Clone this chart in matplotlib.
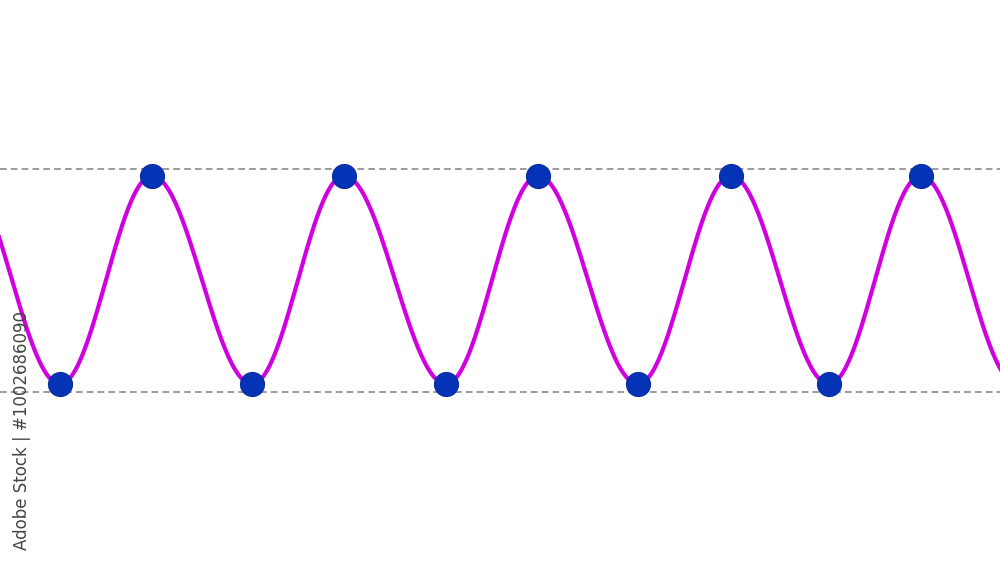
import numpy as np
import matplotlib.pyplot as plt

# extremum positions (x in pixel-like units) and values
ext_x = [-36, 60, 152, 252, 344, 446, 538, 638, 731, 829, 921, 1017]
ext_y = [1, -1, 1, -1, 1, -1, 1, -1, 1, -1, 1, -1]
ref_top = 1.07
ref_bottom = -1.075

fig = plt.figure(figsize=(10, 5.62), dpi=100)
ax = fig.add_axes([0, 0, 1, 1])

# smooth half-cosine between consecutive extrema
xs, ys = [], []
for i in range(len(ext_x) - 1):
    x0, x1 = ext_x[i], ext_x[i + 1]
    y0, y1 = ext_y[i], ext_y[i + 1]
    s = np.linspace(0, 1, 60)
    xs.append(x0 + (x1 - x0) * s)
    ys.append(y0 + (y1 - y0) * (1 - np.cos(np.pi * s)) / 2)
xs = np.concatenate(xs)
ys = np.concatenate(ys)

ax.axhline(ref_top, color='#8a8a8a', lw=1.2, ls=(0, (4, 2.5)), zorder=1)
ax.axhline(ref_bottom, color='#8a8a8a', lw=1.2, ls=(0, (4, 2.5)), zorder=1)
ax.plot(xs, ys, color='#d000e0', lw=3, zorder=2)

vis = [(x, y) for x, y in zip(ext_x, ext_y) if 0 <= x <= 1000]
ax.scatter([p[0] for p in vis], [p[1] for p in vis], s=300, color='#0433b8',
           edgecolor='#0a2f9e', lw=0.8, zorder=3)

ax.text(22, -2.6, 'Adobe Stock | #1002686090', rotation=90, ha='center', va='bottom',
        fontsize=12, color='#444444', zorder=4)

ax.set_xlim(0, 1000)
ax.set_ylim(-2.712, 2.692)
ax.axis('off')

fig.savefig('out.png', dpi=100, facecolor='white')
